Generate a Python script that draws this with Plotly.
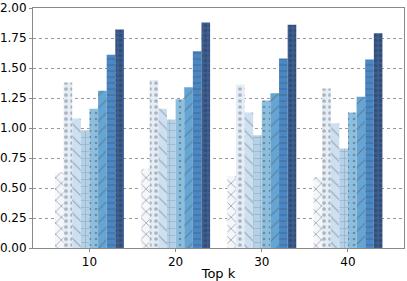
import plotly.graph_objects as go

categories = ["10", "20", "30", "40"]
series_values = [
    [0.63, 0.66, 0.60, 0.59],
    [1.38, 1.40, 1.36, 1.33],
    [1.08, 1.16, 1.13, 1.04],
    [0.98, 1.07, 0.94, 0.83],
    [1.16, 1.24, 1.23, 1.13],
    [1.31, 1.34, 1.29, 1.26],
    [1.61, 1.64, 1.58, 1.57],
    [1.82, 1.88, 1.86, 1.79],
]
colors = ["#f3f7fc", "#e2edf8", "#cde0f1", "#b3d1e8", "#8cbfdf", "#65a5d4", "#4a87c5", "#3c5f92"]
patterns = ["x", ".", "\\", "+", ".", "/", "-", "."]
pat_sizes = [8, 6, 9, 7, 6, 9, 6, 5]
pat_solid = [0.18, 0.3, 0.12, 0.12, 0.15, 0.12, 0.15, 0.45]
fg = ["#444444", "#777777", "#666666", "#666666", "#555555", "#555555", "#444444", "#2d3e5c"]

x = list(range(len(categories)))
fig = go.Figure()
for i, vals in enumerate(series_values):
    fig.add_trace(go.Bar(
        x=x, y=vals,
        marker=dict(color=colors[i], line=dict(width=0),
                    pattern=dict(shape=patterns[i], fgcolor=fg[i], size=pat_sizes[i],
                                 solidity=pat_solid[i], fillmode="overlay")),
        showlegend=False,
    ))

fig.update_layout(
    width=407, height=281,
    margin=dict(l=33, r=3, t=8, b=33, autoexpand=False),
    barmode="group", bargap=0.2, bargroupgap=0,
    plot_bgcolor="white", paper_bgcolor="white",
    font=dict(family="DejaVu Sans", size=12, color="black"),
)
fig.update_xaxes(
    range=[-0.655, 3.65], tickmode="array", tickvals=x, ticktext=categories,
    showline=True, linecolor="#8a8a8a", linewidth=1, mirror=True,
    ticks="outside", ticklen=3, tickcolor="#8a8a8a", showgrid=False,
    automargin=False,
    title=dict(text="Top k", standoff=0, font=dict(size=13)),
)
fig.update_yaxes(
    range=[0, 2.0], dtick=0.25, tick0=0, tickformat=".2f",
    showline=True, linecolor="#8a8a8a", linewidth=1, mirror=True,
    ticks="outside", ticklen=3, tickcolor="#8a8a8a",
    showgrid=True, gridcolor="#999999", griddash="dot", gridwidth=1,
    zeroline=False, automargin=False,
)
fig.write_html(
    "out.html",
    config={"displayModeBar": False},
    post_script="document.body.style.margin='0';document.body.style.overflow='hidden';",
)
